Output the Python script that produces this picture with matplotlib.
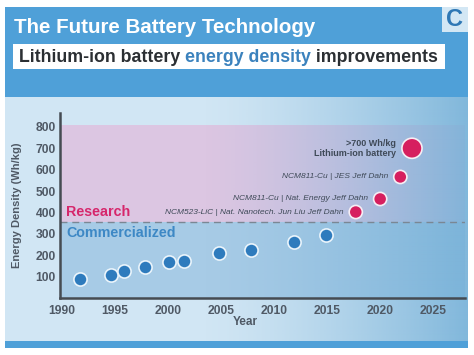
import numpy as np
import matplotlib
matplotlib.use('Agg')
import matplotlib.pyplot as plt
from matplotlib.patches import Rectangle
from matplotlib.transforms import Affine2D
from matplotlib.colors import to_rgb

plt.rcParams['font.family'] = ['Liberation Sans', 'DejaVu Sans']

# data
commercial_years = [1991.7, 1994.6, 1995.8, 1997.8, 2000.1, 2001.5, 2004.8, 2007.8, 2011.9, 2014.9]
commercial_wh = [89, 107, 126, 145, 168, 173, 210, 224, 262, 294]

research_years = [2017.7, 2020.0, 2021.9, 2023.0]
research_wh = [402, 463, 566, 700]
research_labels = ['NCM523-LiC | Nat. Nanotech. Jun Liu Jeff Dahn',
                   'NCM811-Cu | Nat. Energy Jeff Dahn',
                   'NCM811-Cu | JES Jeff Dahn',
                   '>700 Wh/kg\nLithium-ion battery']

research_top = 810
boundary = 355
x_ticks = [1990, 1995, 2000, 2005, 2010, 2015, 2020, 2025]
y_ticks = [100, 200, 300, 400, 500, 600, 700, 800]

W, H = 474, 355
fig = plt.figure(figsize=(W / 100, H / 100), dpi=100)
fig.patch.set_facecolor('white')
# pixel coords, origin top-left
px = Affine2D().scale(1 / W, -1 / H).translate(0, 1) + fig.transFigure

header_blue = '#4fa0d8'
panel_light = '#d1e6f4'

bg = fig.add_axes([0, 0, 1, 1])
bg.set_xlim(0, W)
bg.set_ylim(H, 0)
bg.axis('off')
bg.add_patch(Rectangle((5, 7), 463, 90, color=header_blue, lw=0))
bg.add_patch(Rectangle((5, 97), 463, 244, color=panel_light, lw=0))
bg.add_patch(Rectangle((5, 341), 463, 7, color=header_blue, lw=0))
bg.add_patch(Rectangle((442, 7), 26, 25, color='#d3e7f4', lw=0))
bg.text(455, 20, 'C', color='#2f78b5', fontsize=17, fontweight='bold', ha='center', va='center')

bg.text(14, 33, 'The Future Battery Technology', color='white', fontsize=14.8,
        fontweight='bold', va='baseline')
bg.add_patch(Rectangle((13, 44), 432, 25, color='white', lw=0))
t1 = bg.text(19, 62, 'Lithium-ion battery ', color='#2b2f33', fontsize=12.8,
             fontweight='bold', va='baseline')
t2 = bg.annotate('energy density', xy=(1, 0), xycoords=t1, va='bottom',
                 color='#3b82bd', fontsize=12.8, fontweight='bold')
bg.annotate(' improvements', xy=(1, 0), xycoords=t2, va='bottom',
            color='#2b2f33', fontsize=12.8, fontweight='bold')

# chart axes
ax = fig.add_axes([60 / W, (H - 298) / H, 405 / W, 185 / H])
ax.patch.set_alpha(0)

ax.axhspan(boundary, research_top, color='#dcc6e2', lw=0, zorder=0)
ax.axhspan(0, boundary, color='#a7cbe6', lw=0, zorder=0)

# gradient towards the right edge of the panel
xs = np.arange(5, 468) + 0.5
ramp = np.clip((xs - 200) / (468 - 200), 0, 1) ** 1.4 * 0.88
grad = np.zeros((1, len(xs), 4))
grad[..., :3] = to_rgb('#76b1d8')
grad[..., 3] = ramp
im = ax.imshow(grad, extent=(5, 468, 341, 97), transform=px, aspect='auto',
               interpolation='bilinear', zorder=1)
im.set_clip_on(False)

ax.axhline(boundary, color='#7a8794', lw=1, dashes=(5, 3.5), zorder=2)

ax.text(1990.4, 383, 'Research', color='#d6266b', fontsize=10.3, fontweight='bold',
        va='baseline', zorder=3)
ax.text(1990.4, 285, 'Commercialized', color='#3d88c5', fontsize=10.3, fontweight='bold',
        va='baseline', zorder=3)

ax.scatter(commercial_years, commercial_wh, s=90, color='#2e7bbd',
           edgecolor='#eaf4fb', linewidth=1.2, zorder=4)
sizes = [90, 90, 90, 210]
ax.scatter(research_years, research_wh, s=sizes, color='#d61f5f',
           edgecolor='#f6eef4', linewidth=1.2, zorder=4)

for i, (yr, wh, lab) in enumerate(zip(research_years, research_wh, research_labels)):
    if i == 3:
        ax.annotate(lab, (yr, wh), xytext=(-11.5, 0), textcoords='offset points',
                    ha='right', va='center', fontsize=6.5, fontweight='bold',
                    color='#3f4a58', linespacing=1.1, zorder=5)
    else:
        ax.annotate(lab, (yr, wh), xytext=(-9, 0), textcoords='offset points',
                    ha='right', va='center', fontsize=6, fontstyle='italic',
                    color='#3f4a58', zorder=5)

ax.set_xlim(1989.81, 2028.0)
ax.set_ylim(0, 865)
ax.set_xticks(x_ticks)
ax.set_yticks(y_ticks)
ax.tick_params(length=0, labelsize=8.7, labelcolor='#4f5965')
ax.tick_params(axis='x', pad=5)
ax.tick_params(axis='y', pad=3)
for lbl in ax.get_xticklabels() + ax.get_yticklabels():
    lbl.set_fontweight('bold')

for s in ['top', 'right']:
    ax.spines[s].set_visible(False)
for s in ['left', 'bottom']:
    ax.spines[s].set_color('#454b52')
    ax.spines[s].set_linewidth(1.8)
    ax.spines[s].set_zorder(3)

ax.set_xlabel('Year', fontsize=8.5, fontweight='bold', color='#4f5965', va='center')
ax.xaxis.set_label_coords((245.5 - 60) / 405, (298 - 322) / 185)
ax.set_ylabel('Energy Density (Wh/kg)', fontsize=8, fontweight='bold', color='#4f5965',
              va='center')
ax.yaxis.set_label_coords((17 - 60) / 405, (298 - 205) / 185)

fig.savefig('out.png', dpi=100)
